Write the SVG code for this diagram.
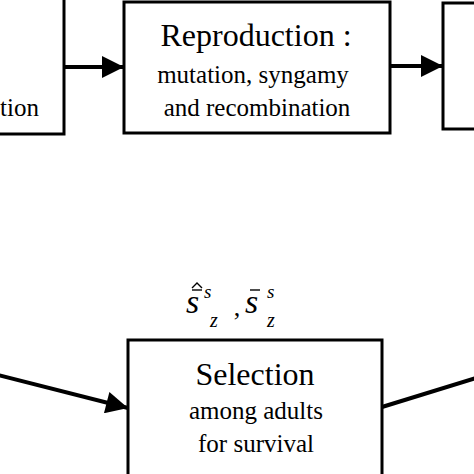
<svg xmlns="http://www.w3.org/2000/svg" width="474" height="474" viewBox="0 0 474 474">
<style>
.box{fill:#fff;stroke:#000;stroke-width:3}
.t{font-family:"Liberation Serif","Times New Roman",serif;fill:#000;text-anchor:middle}
.big{font-size:32px}
.small{font-size:25px}
.m{font-family:"Liberation Serif","Times New Roman",serif;font-style:italic;fill:#000}
.edge{stroke:#000;stroke-width:4;fill:none}
.acc{stroke:#000;stroke-width:1.4;fill:none}
</style>
<defs>
<marker id="ah" viewBox="0 0 10 10" refX="10" refY="5" markerWidth="6.5" markerHeight="5.5" markerUnits="strokeWidth" orient="auto">
<path d="M0,0 L10,5 L0,10 Z" fill="#000"/>
</marker>
</defs>
<rect width="474" height="474" fill="#fff"/>
<g id="node-left">
<rect class="box" x="-40" y="-5" width="104" height="139"/>
<text class="t small" x="0" y="116" style="text-anchor:start">tion</text>
</g>
<g id="node-reproduction">
<rect class="box" x="124" y="2" width="266" height="131"/>
<text class="t big" x="256" y="46">Reproduction :</text>
<text class="t small" x="253" y="83">mutation, syngamy</text>
<text class="t small" x="257" y="116">and recombination</text>
</g>
<g id="node-right">
<rect class="box" x="443" y="3" width="60" height="126"/>
</g>
<g id="node-selection">
<rect class="box" x="128" y="340" width="254" height="150"/>
<text class="t big" x="255" y="385">Selection</text>
<text class="t small" x="256" y="419">among adults</text>
<text class="t small" x="256" y="452">for survival</text>
</g>
<g id="label-math">
<text class="m" x="186" y="313" font-size="34">s</text>
<path class="acc" d="M192,288 L197,283 L202,288"/>
<line class="acc" x1="192" y1="290" x2="202" y2="290"/>
<text class="m" x="204" y="298" font-size="19">s</text>
<text class="m" x="210" y="327" font-size="20">z</text>
<text class="t" x="237" y="316" font-size="26">,</text>
<text class="m" x="245" y="313" font-size="34">s</text>
<line class="acc" x1="250" y1="290" x2="260" y2="290"/>
<text class="m" x="267" y="298" font-size="19">s</text>
<text class="m" x="267" y="327" font-size="20">z</text>
</g>
<g id="connectors">
<line class="edge" x1="64" y1="67" x2="124" y2="67" marker-end="url(#ah)"/>
<line class="edge" x1="390" y1="66" x2="443" y2="66" marker-end="url(#ah)"/>
<line class="edge" x1="-2" y1="375" x2="128" y2="408" marker-end="url(#ah)"/>
<line class="edge" x1="382" y1="407" x2="476" y2="378"/>
</g>
</svg>
